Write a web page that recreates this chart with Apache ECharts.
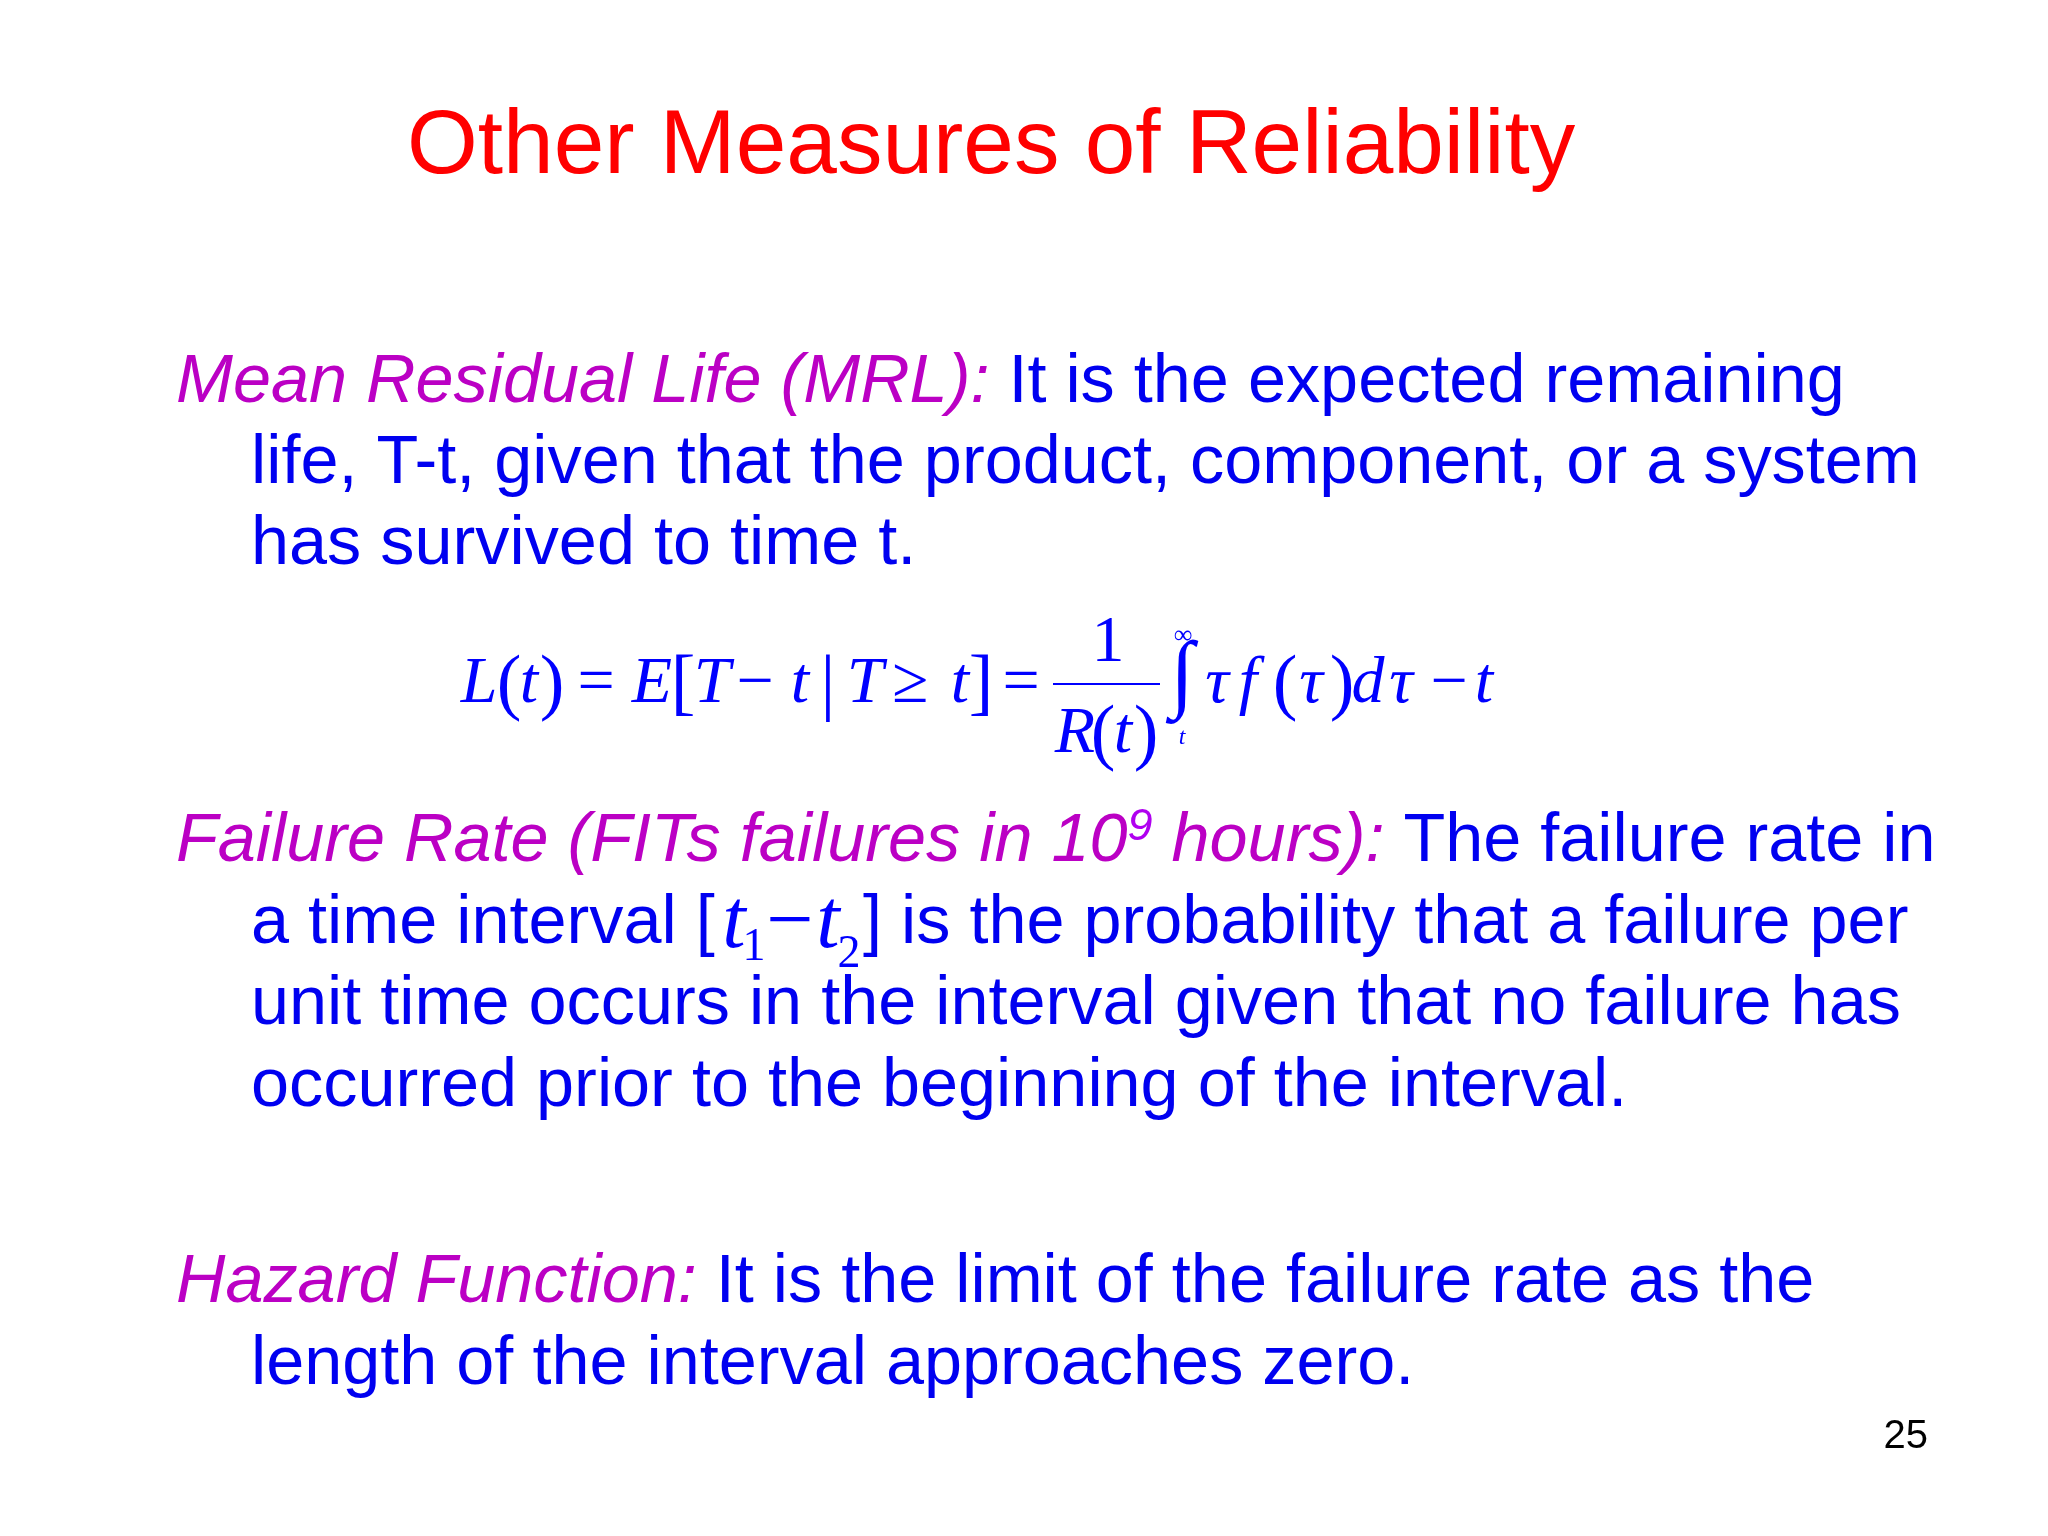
<!DOCTYPE html>
<html><head><meta charset="utf-8">
<script src="https://cdn.jsdelivr.net/npm/echarts@6/dist/echarts.min.js"></script>
<style>html,body{margin:0;padding:0;background:#fff}#c{width:2048px;height:1536px}</style>
</head><body><div id="c"></div>
<script>
// ---- text content ----
const titleText = 'Other Measures of Reliability';
const mrlHeading = 'Mean Residual Life (MRL):';
const mrlLines = [' It is the expected remaining', 'life, T-t, given that the product, component, or a system', 'has survived to time t.'];
const frHeadingParts = ['Failure Rate (FITs failures in 10', '9', ' hours):'];
const frLines = [' The failure rate in', 'a time interval [', '] is the probability that a failure per', 'unit time occurs in the interval given that no failure has', 'occurred prior to the beginning of the interval.'];
const frMath = ['t', '1', '\u2212', 't', '2'];
const hzHeading = 'Hazard Function:';
const hzLines = [' It is the limit of the failure rate as the', 'length of the interval approaches zero.'];
const pageNumber = '25';
const eqMain = ['L', '(', 't', ')', '=', 'E', '[', 'T', '\u2212', 't', '|', 'T', '\u2265', 't', ']', '='];
const eqNum = ['1'];
const eqDen = ['R', '(', 't', ')'];
const eqIntegral = ['\u222B', '\u221E', 't'];
const eqTail = ['\u03C4', 'f', '(', '\u03C4', ')', 'd', '\u03C4', '\u2212', 't'];

// ---- layout ----
const SANS = "'Liberation Sans', Arial, sans-serif";
const SERIF = "'Liberation Serif', 'Times New Roman', serif";
const C_TITLE = '#ff0000', C_HEAD = '#bb00c4', C_BODY = '#0000f0', C_SUP = '#b000f0', C_EQ = '#0000ff';
const BS = 68.4;
const fTitle = {size: 91, family: SANS, color: C_TITLE};
const fHead = {size: BS, family: SANS, style: 'italic', color: C_HEAD};
const fBody = {size: BS, family: SANS, color: C_BODY};
const fSup = {size: 45, family: SANS, style: 'italic', color: C_SUP};
const fPage = {size: 40, family: SANS, color: '#000000'};
const X0 = 176, X1 = 251;

const cv = document.createElement('canvas').getContext('2d');
function fontStr(f) { return (f.style || 'normal') + ' normal ' + f.size + 'px ' + f.family; }
function measure(t, f) { cv.font = fontStr(f); return cv.measureText(t).width; }
function midOffset(f) {
  cv.font = fontStr(f);
  cv.textBaseline = 'alphabetic';
  const a = cv.measureText('Hg').fontBoundingBoxAscent;
  cv.textBaseline = 'middle';
  const m = cv.measureText('Hg').fontBoundingBoxAscent;
  cv.textBaseline = 'alphabetic';
  if (typeof a === 'number' && typeof m === 'number' && isFinite(a - m)) return a - m;
  return f.size * 0.33;
}
const els = [];
function txt(x, baseline, text, f, align) {
  align = align || 'left';
  els.push({
    type: 'text', x: x, y: baseline - midOffset(f), silent: true,
    style: {text: text, fill: f.color, fontSize: f.size, fontFamily: f.family,
      fontStyle: f.style || 'normal', fontWeight: 'normal',
      align: align, textAlign: align, verticalAlign: 'middle', textVerticalAlign: 'middle'}
  });
}
function flow(x, baseline, parts) {
  parts.forEach(function (p) {
    txt(x, baseline + (p.dy || 0), p.t, p.f);
    x += measure(p.t, p.f);
  });
  return x;
}

// title
txt(407, 173, titleText, fTitle);

// Mean residual life
const mrlBase = [402, 483, 564];
flow(X0, mrlBase[0], [{t: mrlHeading, f: fHead}, {t: mrlLines[0], f: fBody}]);
txt(X1, mrlBase[1], mrlLines[1], fBody);
txt(X1, mrlBase[2], mrlLines[2], fBody);

// equation
const eqB = 702;
const fEqI = {size: 66, family: SERIF, style: 'italic', color: C_EQ};
const fEqU = {size: 66, family: SERIF, color: C_EQ};
const fEqP = {size: 74, family: SERIF, color: C_EQ};
// style codes: 1 italic, 0 upright, 2 tall delimiter
const eqMainLayout = [[479,1],[509,2],[529,1],[552,2],[596,0],[652,1],[683,2],[712,1],[755,0],[800,1],[828,2],[865,1],[910,0],[960,1],[981,2],[1021,0]];
function eqFont(c) { return c === 1 ? fEqI : (c === 2 ? fEqP : fEqU); }
eqMain.forEach(function (g, i) { txt(eqMainLayout[i][0], eqMainLayout[i][1] === 2 ? eqB + 4 : eqB, g, eqFont(eqMainLayout[i][1]), 'center'); });
txt(1108, 661, eqNum[0], fEqU, 'center');
els.push({type: 'line', silent: true, shape: {x1: 1053, y1: 684, x2: 1160, y2: 684}, style: {stroke: C_EQ, lineWidth: 2}});
const eqDenLayout = [[1075,1],[1103,2],[1123,1],[1146,2]];
eqDen.forEach(function (g, i) { txt(eqDenLayout[i][0], eqDenLayout[i][1] === 2 ? 756 : 752, g, eqFont(eqDenLayout[i][1]), 'center'); });
txt(1182, 701, eqIntegral[0], {size: 86, family: SERIF, color: C_EQ}, 'center');
txt(1183, 643, eqIntegral[1], {size: 26, family: SERIF, color: C_EQ}, 'center');
txt(1182, 744, eqIntegral[2], {size: 24, family: SERIF, style: 'italic', color: C_EQ}, 'center');
const eqTailLayout = [[1217,1],[1248,1],[1285,2],[1311,1],[1342,2],[1368,1],[1401,1],[1449,0],[1484,1]];
eqTail.forEach(function (g, i) { txt(eqTailLayout[i][0], eqTailLayout[i][1] === 2 ? eqB + 4 : eqB, g, eqFont(eqTailLayout[i][1]), 'center'); });

// Failure rate
const frBase = [861, 943, 1024, 1106];
flow(X0, frBase[0], [
  {t: frHeadingParts[0], f: fHead},
  {t: frHeadingParts[1], f: fSup, dy: -21},
  {t: frHeadingParts[2], f: fHead},
  {t: frLines[0], f: fBody}
]);
flow(X1, frBase[1], [{t: frLines[1], f: fBody}]);
const fMt = {size: 84, family: SERIF, style: 'italic', color: C_EQ};
const fMu = {size: 84, family: SERIF, color: C_EQ};
const fMs = {size: 46, family: SERIF, color: C_EQ};
txt(734, 947, frMath[0], fMt, 'center');
txt(754, 960, frMath[1], fMs, 'center');
txt(790, 947, frMath[2], fMu, 'center');
txt(828, 947, frMath[3], fMt, 'center');
txt(849, 967, frMath[4], fMs, 'center');
flow(863, frBase[1], [{t: frLines[2], f: fBody}]);
txt(X1, frBase[2], frLines[3], fBody);
txt(X1, frBase[3], frLines[4], fBody);

// Hazard function
const hzBase = [1302, 1384];
flow(X0, hzBase[0], [{t: hzHeading, f: fHead}, {t: hzLines[0], f: fBody}]);
txt(X1, hzBase[1], hzLines[1], fBody);

// page number
txt(1928, 1448, pageNumber, fPage, 'right');

const chart = echarts.init(document.getElementById('c'), null, {renderer: 'canvas'});
chart.setOption({backgroundColor: '#ffffff', animation: false, graphic: {elements: els}});
</script>
</body></html>
